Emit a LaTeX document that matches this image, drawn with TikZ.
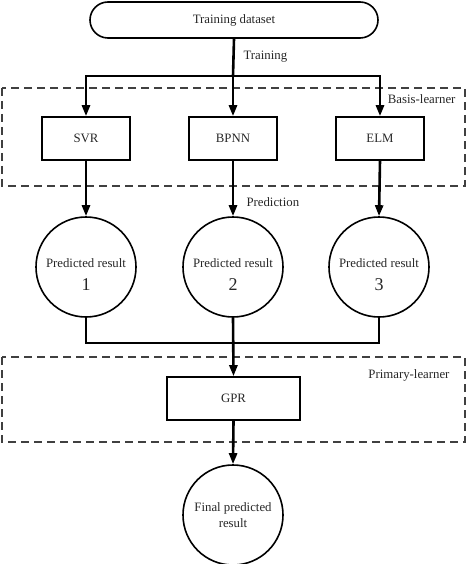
\documentclass[tikz,border=0pt]{standalone}
\usepackage{fontspec}
\setmainfont{Liberation Serif}
\usetikzlibrary{arrows.meta}
\begin{document}
\begin{tikzpicture}[x=1pt,y=-1pt,
  every node/.style={text=black!85, font=\fontsize{12.8}{16}\selectfont},
  box/.style={draw=black, line width=1.6pt, minimum width=88pt, minimum height=43pt, inner sep=0pt},
  res/.style={draw=black, line width=1.6pt, circle, minimum size=100pt, inner sep=0pt, align=center},
  rtxt/.style={inner sep=0pt},
  rnum/.style={inner sep=0pt, font=\fontsize{18}{20}\selectfont},
  conn/.style={line width=2.6pt, draw=black},
  arr/.style={conn, -{Triangle[length=11pt,width=8pt]}},
  grp/.style={draw=black!75, line width=1.2pt, dash pattern=on 8pt off 5pt},
  lab/.style={font=\fontsize{12.8}{15}\selectfont}
]
\useasboundingbox (0,0) rectangle (474,564);
% group frames
\draw[grp] (2,88) rectangle (465,186);
\draw[grp] (2,357) rectangle (465,442);
\node[lab, anchor=east] (bl) at (459,99) {Basis-learner};
\node[lab, anchor=east] (pl) at (453,375) {Primary-learner};
% nodes
\node[draw=black, line width=1.6pt, rounded corners=18pt, minimum width=288pt, minimum height=36pt, inner sep=0pt] (td) at (234,20) {Training dataset};
\node[box] (svr) at (86,138.5) {SVR};
\node[box] (bpnn) at (233,138.5) {BPNN};
\node[box] (elm) at (380,138.5) {ELM};
\node[res] (p1) at (86,267) {};
\node[res] (p2) at (233,267) {};
\node[res] (p3) at (379,267) {};
\node[rtxt] (p1t) at (86,263) {Predicted result};
\node[rtxt] (p2t) at (233,263) {Predicted result};
\node[rtxt] (p3t) at (379,263) {Predicted result};
\node[rnum] (p1n) at (86,285) {1};
\node[rnum] (p2n) at (233,285) {2};
\node[rnum] (p3n) at (379,285) {3};
\node[box, minimum width=133pt] (gpr) at (233.5,398.5) {GPR};
\node[res] (fin) at (233,515) {Final predicted\\result};
% labels
\node[lab, anchor=west] (tr) at (240,57) {Training};
\node[lab, anchor=west] (pr) at (243,202) {Prediction};
% connectors
\coordinate (split) at (233,76);
\coordinate (merge) at (233,343);
\draw[conn] (td.south) -- (split);
\draw[arr] (split) -| (svr.north);
\draw[arr] (split) -| (elm.north);
\draw[arr] (split) -- (bpnn.north);
\draw[arr] (svr.south) -- (p1.north);
\draw[arr] (bpnn.south) -- (p2.north);
\draw[arr] (elm.south) -- (p3.north);
\draw[conn] (p1.south) |- (merge);
\draw[conn] (p3.south) |- (merge);
\draw[arr] (p2.south) -- (gpr.north);
\draw[arr] (gpr.south) -- (fin.north);
\end{tikzpicture}
\end{document}
